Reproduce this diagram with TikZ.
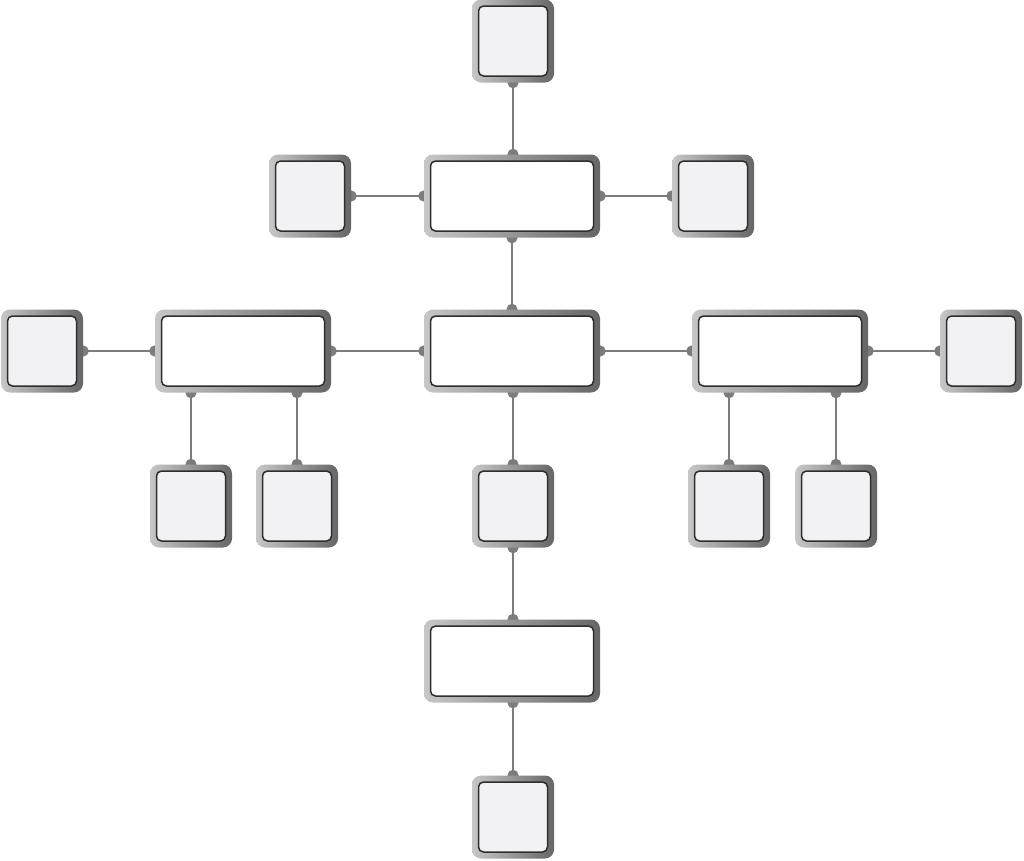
\documentclass[tikz,border=0pt]{standalone}
\usetikzlibrary{arrows.meta,backgrounds}
\definecolor{sqfill}{HTML}{F2F2F4}
\definecolor{linkc}{HTML}{7C7C7E}
\tikzset{
  boxbase/.style={rounded corners=9pt, inner sep=0pt, minimum height=83pt,
    shading=axis, shading angle=60, left color=black!22, middle color=black!42, right color=black!60,
    path picture={\path[fill=#1, draw=black!82, line width=1.5pt, rounded corners=5pt]
      ([shift={(6.5pt,-6.5pt)}]path picture bounding box.north west) rectangle
      ([shift={(-6.5pt,6.5pt)}]path picture bounding box.south east);}},
  sq/.style={boxbase=sqfill, minimum width=82pt},
  wide/.style={boxbase=white, minimum width=176pt},
  conn/.style={draw=linkc, line width=1.8pt,
    {Circle[length=11pt]}-{Circle[length=11pt]}, shorten <=-5.5pt, shorten >=-5.5pt}
}
\begin{document}
\begin{tikzpicture}[x=1pt,y=-1pt]
\useasboundingbox (0,0) rectangle (1024,860);
% row 1
\node[sq] (top) at (513,41) {};
% row 2
\node[sq] (r2l) at (310,196) {};
\node[wide] (r2c) at (512,196) {};
\node[sq] (r2r) at (713,196) {};
% row 3
\node[sq] (r3ls) at (42,351) {};
\node[wide] (r3l) at (243,351) {};
\node[wide] (r3c) at (512,351) {};
\node[wide] (r3r) at (780,351) {};
\node[sq] (r3rs) at (981,351) {};
% row 4
\node[sq] (r4a) at (191,506) {};
\node[sq] (r4b) at (297,506) {};
\node[sq] (r4c) at (513,506) {};
\node[sq] (r4d) at (729,506) {};
\node[sq] (r4e) at (836,506) {};
% row 5, 6
\node[wide] (r5) at (512,661) {};
\node[sq] (r6) at (513,817) {};
\begin{pgfonlayer}{background}
\fill[white] (0,0) rectangle (1024,860);
\draw[conn] (top.south) -- (r2c.north -| top.south);
\draw[conn] (r2l.east) -- (r2c.west);
\draw[conn] (r2c.east) -- (r2r.west);
\draw[conn] (r2c.south) -- (r3c.north);
\draw[conn] (r3ls.east) -- (r3l.west);
\draw[conn] (r3l.east) -- (r3c.west);
\draw[conn] (r3c.east) -- (r3r.west);
\draw[conn] (r3r.east) -- (r3rs.west);
\draw[conn] (r3l.south -| r4a.north) -- (r4a.north);
\draw[conn] (r3l.south -| r4b.north) -- (r4b.north);
\draw[conn] (r3c.south -| r4c.north) -- (r4c.north);
\draw[conn] (r3r.south -| r4d.north) -- (r4d.north);
\draw[conn] (r3r.south -| r4e.north) -- (r4e.north);
\draw[conn] (r4c.south) -- (r5.north -| r4c.south);
\draw[conn] (r5.south -| r6.north) -- (r6.north);
\end{pgfonlayer}
\end{tikzpicture}
\end{document}
